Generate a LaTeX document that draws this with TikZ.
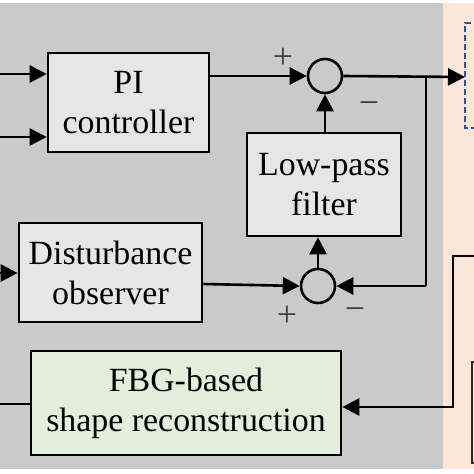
\documentclass[tikz,border=0pt]{standalone}
\usepackage{fontspec}
\setmainfont{Liberation Serif}
\usetikzlibrary{arrows.meta}
\definecolor{bggray}{HTML}{CACACA}
\definecolor{boxgray}{HTML}{E6E6E6}
\definecolor{boxgreen}{HTML}{E3EFDA}
\definecolor{peach}{HTML}{FBE6D8}
\definecolor{navy}{HTML}{2F5597}
\tikzset{
  blockbox/.style={draw=black, line width=2.6bp, fill=boxgray, inner sep=0pt, align=center,
     font=\fontsize{34}{40}\selectfont},
  sumnode/.style={draw=black, line width=2.6bp, circle, minimum size=34bp, inner sep=0pt},
  conn/.style={line width=2.6bp, draw=black},
  arr/.style={conn, -{Triangle[length=17bp, width=17bp]}},
  signlbl/.style={font=\fontsize{36}{36}\selectfont, inner sep=0pt, text=black!75},
}
\begin{document}
\begin{tikzpicture}[x=1bp, y=-1bp]
\useasboundingbox (0,0) rectangle (474,474);
\fill[white] (0,0) rectangle (474,474);
\fill[bggray] (0,3) rectangle (443,469);
\fill[peach] (443,3) rectangle (474,469);

% blocks
\node[blockbox, minimum width=161bp, minimum height=99bp] (pi) at (128.5,102.5) {PI\\controller};
\node[blockbox, minimum width=154bp, minimum height=103bp] (lpf) at (324,184.5) {Low-pass\\filter};
\node[blockbox, minimum width=183bp, minimum height=99bp] (dob) at (110.5,272.5) {Disturbance\\observer};
\node[blockbox, fill=boxgreen, minimum width=310bp, minimum height=104bp] (fbg) at (186,403) {FBG-based\\shape reconstruction};

% sums
\node[sumnode] (s1) at (325,76) {};
\node[sumnode] (s2) at (318,286) {};

% signs
\node[signlbl] (p1) at (283,58) {+};
\node[signlbl] (m1) at (369,108) {\char"2212};
\node[signlbl] (p2) at (287,316) {+};
\node[signlbl] (m2) at (355,314) {\char"2212};

% coordinates
\coordinate (in1) at (0,74);
\coordinate (in2) at (0,137);
\coordinate (in3) at (0,273);
\coordinate (out4) at (0,404);
\coordinate (br) at (426,76);
\coordinate (brd) at (426,286);
\coordinate (dsh) at (465,77);
\coordinate (rin) at (474,256);
\coordinate (rc1) at (453,256);
\coordinate (rc2) at (453,407);

% connectors
\draw[arr] (in1) -- (in1 -| pi.west);
\draw[arr] (in2) -- (in2 -| pi.west);
\draw[arr] (in3) -- (in3 -| dob.west);
\draw[conn] (out4) -- (out4 -| fbg.west);
\draw[arr] (pi.east |- s1) -- (s1.west);
\draw[arr] (s1.east) -- (dsh);
\draw[conn] (br) -- (brd);
\draw[arr] (brd) -- (s2.east);
\draw[arr] (lpf.north -| s1) -- (s1.south);
\draw[arr] (s2.north) -- (s2 |- lpf.south);
\draw[arr] (dob.east |- 0,284) -- (s2.west);
\draw[arr] (rin) -- (rc1) -- (rc2) -- (rc2 -| fbg.east);

% dashed box (cut off at right)
\draw[navy, line width=2.2bp, dash pattern=on 6bp off 3bp] (480,23) -- (465,23) -- (465,128) -- (480,128);
% dark box (cut off at right)
\draw[black!85, line width=2.8bp] (480,362) -- (472,362) -- (472,463) -- (480,463);
\end{tikzpicture}
\end{document}
